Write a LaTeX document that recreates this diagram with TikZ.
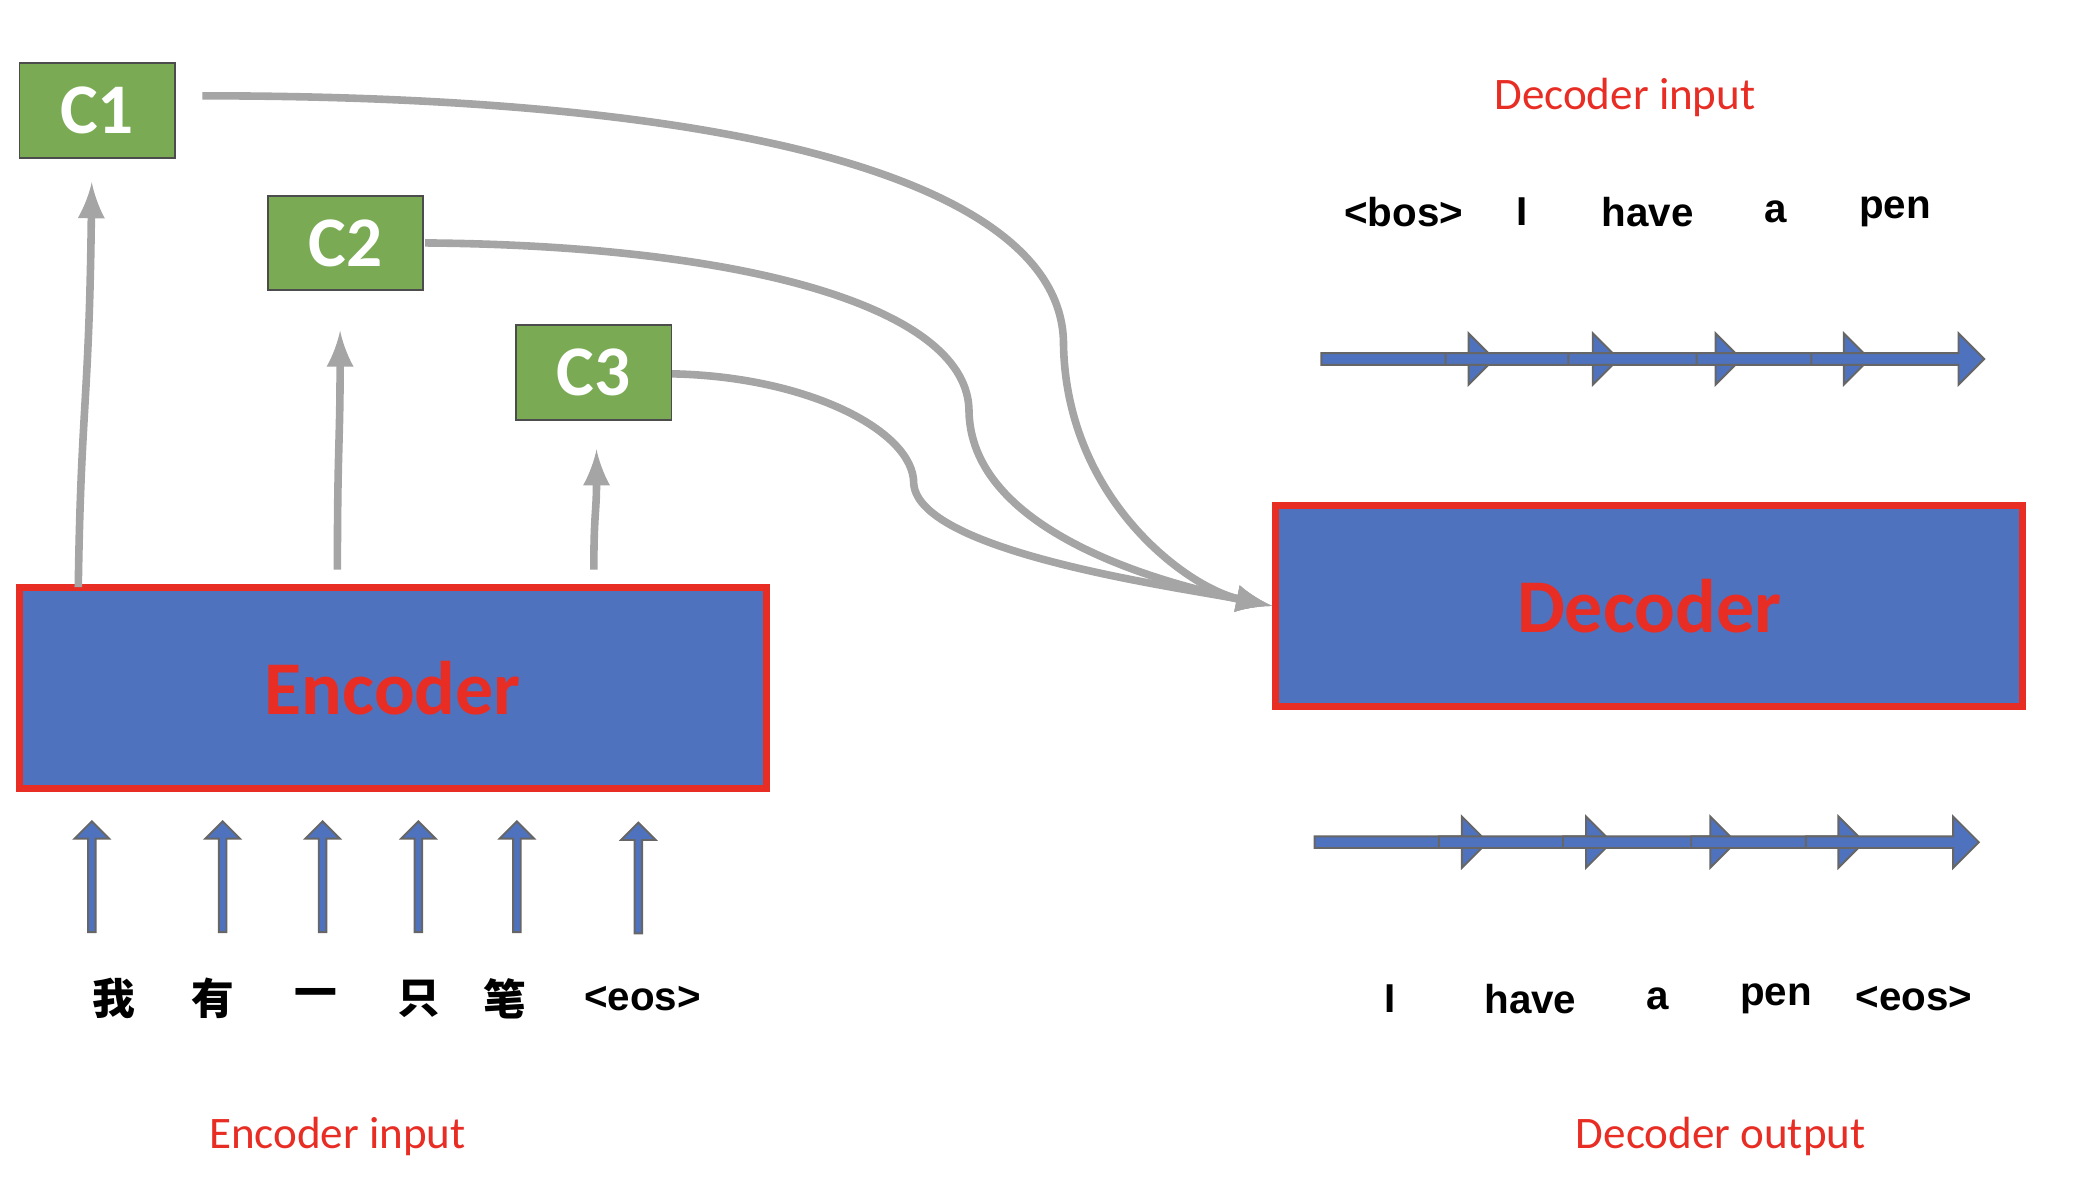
\documentclass[tikz,border=0pt]{standalone}
\usepackage{fontspec}
\setmainfont{Carlito}
\newfontfamily\tokfont{Liberation Sans}
\newfontfamily\cjk{Noto Sans CJK SC}
\usetikzlibrary{shapes.arrows}
\definecolor{cgreen}{RGB}{122,171,84}
\definecolor{cblue}{RGB}{79,114,190}
\definecolor{cred}{RGB}{232,45,36}
\definecolor{cgray}{RGB}{165,165,165}
\tikzset{
  cbox/.style={rectangle,draw=black!70,fill=cgreen,minimum width=1.15cm,minimum height=0.7cm,text=white,font=\bfseries\fontsize{15}{15}\selectfont},
  coder/.style={rectangle,draw=cred,line width=1.5pt,fill=cblue,text=cred,font=\bfseries\fontsize{16}{16}\selectfont},
  tok/.style={font=\tokfont\bfseries\fontsize{8.5}{9}\selectfont},
  lbl/.style={text=cred,font=\fontsize{9.5}{10}\selectfont},
  blk/.style={single arrow,draw=black!60,fill=cblue,shape border rotate=#1,single arrow head extend=0.1cm,minimum width=0.24cm,minimum height=0.82cm,inner sep=0.6pt},
  bigblk/.style={single arrow,draw=black!60,fill=cblue,shape border rotate=#1,single arrow head extend=0.12cm,minimum width=0.38cm,minimum height=1.28cm,inner sep=0.8pt},
  garrow/.style={draw=cgray,line width=1.6pt,-latex},
}
\begin{document}
\begin{tikzpicture}[x=0.01cm,y=-0.01cm]
\useasboundingbox (0,0) rectangle (1556,879);
% boxes
\node[cbox] (c1) at (72,82) {C1};
\node[cbox] (c2) at (256,180) {C2};
\node[cbox] (c3) at (440,276) {C3};
\node[coder,minimum width=5.53cm,minimum height=1.49cm] (enc) at (291,510) {Encoder};
\node[coder,minimum width=5.53cm,minimum height=1.49cm] (dec) at (1222,449) {Decoder};
% encoder to context vectors
\coordinate (e1) at (58,435); \coordinate (t1) at (68,135);
\coordinate (e2) at (250,422); \coordinate (t2) at (252,245);
\coordinate (e3) at (440,422); \coordinate (t3) at (442,333);
\draw[garrow] (e1) .. controls (60,300) and (66,300) .. (t1);
\draw[garrow] (e2) .. controls (250,330) and (252,330) .. (t2);
\draw[garrow] (e3) .. controls (440,380) and (442,380) .. (t3);
% context vectors to decoder
\coordinate (d1) at (150,71); \coordinate (d2) at (315,180); \coordinate (d3) at (498,277);
\coordinate (m1) at (788,255); \coordinate (m2) at (718,305); \coordinate (m3) at (677,358);
\draw[garrow] (d1) .. controls (600,71) and (788,150) .. (m1) .. controls (790,370) and (880,436) .. (dec.west);
\draw[garrow] (d2) .. controls (560,182) and (718,230) .. (m2) .. controls (720,400) and (880,436) .. (dec.west);
\draw[garrow] (d3) .. controls (600,279) and (677,320) .. (m3) .. controls (680,410) and (880,436) .. (dec.west);
% encoder input
\foreach \x/\w [count=\i] in {68/我,165/有,239/一,310/只,383/笔}
  \node[blk=90] (ea\i) at (\x,651) {};
\node[blk=90] (ea6) at (473,652) {};
\foreach \x/\w [count=\i] in {84/我,158/有,234/一,310/只,374/笔}
  \node[tok,font=\cjk\bfseries\fontsize{9}{9}\selectfont] (ew\i) at (\x,740) {\w};
\node[tok] (ew6) at (476,740) {<eos>};
% decoder input
\foreach \x/\w [count=\i] in {1040/<bos>,1128/I,1221/have,1316/a,1404/pen}
  \node[tok] (di\i) at (\x,157) {\w};
\foreach \x [count=\i] in {1041,1133,1224,1319,1404}
  \node[bigblk=-90] (da\i) at (\x,266) {};
% decoder output
\foreach \x [count=\i] in {1036,1128,1220,1315,1400}
  \node[bigblk=-90] (db\i) at (\x,624) {};
\foreach \x/\w [count=\i] in {1030/I,1134/have,1228/a,1316/pen,1418/<eos>}
  \node[tok] (do\i) at (\x,740) {\w};
% captions
\node[lbl] (l1) at (1204,72) {Decoder input};
\node[lbl] (l2) at (250,842) {Encoder input};
\node[lbl] (l3) at (1275,842) {Decoder output};
\end{tikzpicture}
\end{document}
